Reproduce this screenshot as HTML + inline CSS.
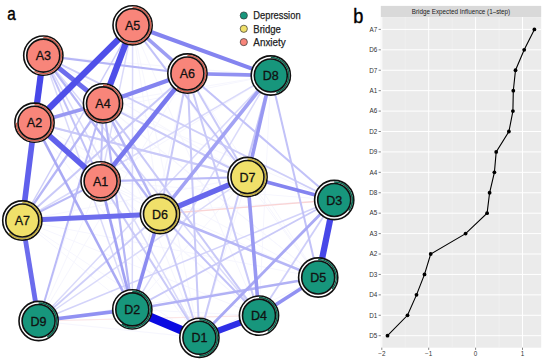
<!DOCTYPE html>
<html><head><meta charset="utf-8"><style>
html,body{margin:0;padding:0;background:#fff;width:550px;height:363px;overflow:hidden;}
svg{display:block;font-family:"Liberation Sans",sans-serif;}
</style></head><body>
<svg width="550" height="363" viewBox="0 0 550 363">
<rect width="550" height="363" fill="#fff"/>

<g stroke-linecap="butt">
<line x1="132.6" y1="25.3" x2="160" y2="214" stroke="rgb(246,246,254)" stroke-width="1.00"/>
<line x1="132.6" y1="25.3" x2="318.2" y2="277.5" stroke="rgb(246,246,254)" stroke-width="1.00"/>
<line x1="132.6" y1="25.3" x2="38.6" y2="321" stroke="rgb(246,246,254)" stroke-width="1.00"/>
<line x1="132.6" y1="25.3" x2="259" y2="315.6" stroke="rgb(246,246,254)" stroke-width="1.00"/>
<line x1="132.6" y1="25.3" x2="199.4" y2="337.8" stroke="rgb(246,246,254)" stroke-width="1.00"/>
<line x1="43.3" y1="55.6" x2="270.8" y2="75.5" stroke="rgb(246,246,254)" stroke-width="1.00"/>
<line x1="43.3" y1="55.6" x2="247.5" y2="177" stroke="rgb(246,246,254)" stroke-width="1.00"/>
<line x1="43.3" y1="55.6" x2="318.2" y2="277.5" stroke="rgb(246,246,254)" stroke-width="1.00"/>
<line x1="187.4" y1="73.5" x2="34.5" y2="122.7" stroke="rgb(246,246,254)" stroke-width="1.00"/>
<line x1="187.4" y1="73.5" x2="318.2" y2="277.5" stroke="rgb(246,246,254)" stroke-width="1.00"/>
<line x1="187.4" y1="73.5" x2="38.6" y2="321" stroke="rgb(246,246,254)" stroke-width="1.00"/>
<line x1="187.4" y1="73.5" x2="132.3" y2="309.4" stroke="rgb(246,246,254)" stroke-width="1.00"/>
<line x1="270.8" y1="75.5" x2="103" y2="103.4" stroke="rgb(246,246,254)" stroke-width="1.00"/>
<line x1="270.8" y1="75.5" x2="34.5" y2="122.7" stroke="rgb(246,246,254)" stroke-width="1.00"/>
<line x1="270.8" y1="75.5" x2="100.6" y2="181.3" stroke="rgb(246,246,254)" stroke-width="1.00"/>
<line x1="270.8" y1="75.5" x2="259" y2="315.6" stroke="rgb(246,246,254)" stroke-width="1.00"/>
<line x1="103" y1="103.4" x2="334.2" y2="200" stroke="rgb(246,246,254)" stroke-width="1.00"/>
<line x1="103" y1="103.4" x2="318.2" y2="277.5" stroke="rgb(246,246,254)" stroke-width="1.00"/>
<line x1="103" y1="103.4" x2="199.4" y2="337.8" stroke="rgb(246,246,254)" stroke-width="1.00"/>
<line x1="34.5" y1="122.7" x2="160" y2="214" stroke="rgb(246,246,254)" stroke-width="1.00"/>
<line x1="34.5" y1="122.7" x2="318.2" y2="277.5" stroke="rgb(246,246,254)" stroke-width="1.00"/>
<line x1="34.5" y1="122.7" x2="259" y2="315.6" stroke="rgb(246,246,254)" stroke-width="1.00"/>
<line x1="34.5" y1="122.7" x2="199.4" y2="337.8" stroke="rgb(246,246,254)" stroke-width="1.00"/>
<line x1="100.6" y1="181.3" x2="334.2" y2="200" stroke="rgb(246,246,254)" stroke-width="1.00"/>
<line x1="100.6" y1="181.3" x2="160" y2="214" stroke="rgb(246,246,254)" stroke-width="1.00"/>
<line x1="100.6" y1="181.3" x2="318.2" y2="277.5" stroke="rgb(246,246,254)" stroke-width="1.00"/>
<line x1="100.6" y1="181.3" x2="38.6" y2="321" stroke="rgb(246,246,254)" stroke-width="1.00"/>
<line x1="100.6" y1="181.3" x2="259" y2="315.6" stroke="rgb(246,246,254)" stroke-width="1.00"/>
<line x1="247.5" y1="177" x2="22.3" y2="220.5" stroke="rgb(246,246,254)" stroke-width="1.00"/>
<line x1="247.5" y1="177" x2="318.2" y2="277.5" stroke="rgb(246,246,254)" stroke-width="1.00"/>
<line x1="247.5" y1="177" x2="132.3" y2="309.4" stroke="rgb(246,246,254)" stroke-width="1.00"/>
<line x1="247.5" y1="177" x2="199.4" y2="337.8" stroke="rgb(246,246,254)" stroke-width="1.00"/>
<line x1="334.2" y1="200" x2="22.3" y2="220.5" stroke="rgb(246,246,254)" stroke-width="1.00"/>
<line x1="334.2" y1="200" x2="160" y2="214" stroke="rgb(246,246,254)" stroke-width="1.00"/>
<line x1="22.3" y1="220.5" x2="318.2" y2="277.5" stroke="rgb(246,246,254)" stroke-width="1.00"/>
<line x1="22.3" y1="220.5" x2="132.3" y2="309.4" stroke="rgb(246,246,254)" stroke-width="1.00"/>
<line x1="22.3" y1="220.5" x2="259" y2="315.6" stroke="rgb(246,246,254)" stroke-width="1.00"/>
<line x1="22.3" y1="220.5" x2="199.4" y2="337.8" stroke="rgb(246,246,254)" stroke-width="1.00"/>
<line x1="318.2" y1="277.5" x2="38.6" y2="321" stroke="rgb(246,246,254)" stroke-width="1.00"/>
<line x1="318.2" y1="277.5" x2="199.4" y2="337.8" stroke="rgb(246,246,254)" stroke-width="1.00"/>
<line x1="38.6" y1="321" x2="259" y2="315.6" stroke="rgb(246,246,254)" stroke-width="1.00"/>
<line x1="38.6" y1="321" x2="199.4" y2="337.8" stroke="rgb(246,246,254)" stroke-width="1.00"/>
<line x1="132.3" y1="309.4" x2="259" y2="315.6" stroke="rgb(246,246,254)" stroke-width="1.00"/>
<line x1="38.6" y1="321" x2="259" y2="315.6" stroke="rgb(252,229,229)" stroke-width="1.20"/>
<line x1="38.6" y1="321" x2="247.5" y2="177" stroke="rgb(218,218,250)" stroke-width="1.50"/>
<line x1="132.6" y1="25.3" x2="100.6" y2="181.3" stroke="rgb(218,218,250)" stroke-width="1.50"/>
<line x1="132.6" y1="25.3" x2="132.3" y2="309.4" stroke="rgb(218,218,250)" stroke-width="1.50"/>
<line x1="270.8" y1="75.5" x2="132.3" y2="309.4" stroke="rgb(218,218,250)" stroke-width="1.50"/>
<line x1="270.8" y1="75.5" x2="38.6" y2="321" stroke="rgb(218,218,250)" stroke-width="1.50"/>
<line x1="270.8" y1="75.5" x2="22.3" y2="220.5" stroke="rgb(218,218,250)" stroke-width="1.50"/>
<line x1="43.3" y1="55.6" x2="259" y2="315.6" stroke="rgb(218,218,250)" stroke-width="1.50"/>
<line x1="43.3" y1="55.6" x2="199.4" y2="337.8" stroke="rgb(218,218,250)" stroke-width="1.50"/>
<line x1="43.3" y1="55.6" x2="132.3" y2="309.4" stroke="rgb(218,218,250)" stroke-width="1.50"/>
<line x1="34.5" y1="122.7" x2="334.2" y2="200" stroke="rgb(218,218,250)" stroke-width="1.60"/>
<line x1="334.2" y1="200" x2="38.6" y2="321" stroke="rgb(211,211,250)" stroke-width="1.50"/>
<line x1="43.3" y1="55.6" x2="334.2" y2="200" stroke="rgb(206,206,249)" stroke-width="1.80"/>
<line x1="38.6" y1="321" x2="160" y2="214" stroke="rgb(206,206,249)" stroke-width="1.80"/>
<line x1="334.2" y1="200" x2="259" y2="315.6" stroke="rgb(206,206,249)" stroke-width="1.80"/>
<line x1="132.6" y1="25.3" x2="22.3" y2="220.5" stroke="rgb(206,206,249)" stroke-width="1.50"/>
<line x1="160" y1="214" x2="334.2" y2="200" stroke="rgb(250,212,212)" stroke-width="1.30"/>
<line x1="34.5" y1="122.7" x2="247.5" y2="177" stroke="rgb(201,201,248)" stroke-width="2.00"/>
<line x1="103" y1="103.4" x2="247.5" y2="177" stroke="rgb(201,201,248)" stroke-width="2.00"/>
<line x1="187.4" y1="73.5" x2="22.3" y2="220.5" stroke="rgb(201,201,248)" stroke-width="2.00"/>
<line x1="187.4" y1="73.5" x2="160" y2="214" stroke="rgb(201,201,248)" stroke-width="2.00"/>
<line x1="103" y1="103.4" x2="259" y2="315.6" stroke="rgb(201,201,248)" stroke-width="2.00"/>
<line x1="187.4" y1="73.5" x2="247.5" y2="177" stroke="rgb(201,201,248)" stroke-width="2.00"/>
<line x1="187.4" y1="73.5" x2="259" y2="315.6" stroke="rgb(201,201,248)" stroke-width="2.00"/>
<line x1="187.4" y1="73.5" x2="199.4" y2="337.8" stroke="rgb(201,201,248)" stroke-width="2.00"/>
<line x1="270.8" y1="75.5" x2="199.4" y2="337.8" stroke="rgb(201,201,248)" stroke-width="2.00"/>
<line x1="100.6" y1="181.3" x2="199.4" y2="337.8" stroke="rgb(201,201,248)" stroke-width="2.00"/>
<line x1="160" y1="214" x2="199.4" y2="337.8" stroke="rgb(201,201,248)" stroke-width="2.00"/>
<line x1="132.3" y1="309.4" x2="334.2" y2="200" stroke="rgb(201,201,248)" stroke-width="1.80"/>
<line x1="187.4" y1="73.5" x2="334.2" y2="200" stroke="rgb(194,194,248)" stroke-width="2.00"/>
<line x1="270.8" y1="75.5" x2="318.2" y2="277.5" stroke="rgb(194,194,248)" stroke-width="2.00"/>
<line x1="132.6" y1="25.3" x2="247.5" y2="177" stroke="rgb(194,194,248)" stroke-width="2.00"/>
<line x1="43.3" y1="55.6" x2="100.6" y2="181.3" stroke="rgb(194,194,248)" stroke-width="2.00"/>
<line x1="103" y1="103.4" x2="100.6" y2="181.3" stroke="rgb(194,194,248)" stroke-width="2.00"/>
<line x1="160" y1="214" x2="259" y2="315.6" stroke="rgb(194,194,248)" stroke-width="2.00"/>
<line x1="103" y1="103.4" x2="38.6" y2="321" stroke="rgb(186,186,247)" stroke-width="2.00"/>
<line x1="100.6" y1="181.3" x2="22.3" y2="220.5" stroke="rgb(186,186,247)" stroke-width="2.00"/>
<line x1="100.6" y1="181.3" x2="247.5" y2="177" stroke="rgb(186,186,247)" stroke-width="2.20"/>
<line x1="43.3" y1="55.6" x2="187.4" y2="73.5" stroke="rgb(182,182,246)" stroke-width="2.20"/>
<line x1="103" y1="103.4" x2="132.3" y2="309.4" stroke="rgb(182,182,246)" stroke-width="2.20"/>
<line x1="103" y1="103.4" x2="22.3" y2="220.5" stroke="rgb(182,182,246)" stroke-width="2.30"/>
<line x1="43.3" y1="55.6" x2="160" y2="214" stroke="rgb(182,182,246)" stroke-width="2.30"/>
<line x1="160" y1="214" x2="318.2" y2="277.5" stroke="rgb(182,182,246)" stroke-width="2.50"/>
<line x1="103" y1="103.4" x2="160" y2="214" stroke="rgb(182,182,246)" stroke-width="2.50"/>
<line x1="318.2" y1="277.5" x2="132.3" y2="309.4" stroke="rgb(177,177,245)" stroke-width="2.50"/>
<line x1="334.2" y1="200" x2="199.4" y2="337.8" stroke="rgb(169,169,244)" stroke-width="2.80"/>
<line x1="34.5" y1="122.7" x2="132.3" y2="309.4" stroke="rgb(169,169,244)" stroke-width="2.50"/>
<line x1="100.6" y1="181.3" x2="132.3" y2="309.4" stroke="rgb(162,162,244)" stroke-width="2.70"/>
<line x1="270.8" y1="75.5" x2="160" y2="214" stroke="rgb(162,162,244)" stroke-width="3.60"/>
<line x1="132.6" y1="25.3" x2="187.4" y2="73.5" stroke="rgb(157,157,243)" stroke-width="3.60"/>
<line x1="270.8" y1="75.5" x2="247.5" y2="177" stroke="rgb(152,152,242)" stroke-width="3.60"/>
<line x1="247.5" y1="177" x2="259" y2="315.6" stroke="rgb(152,152,242)" stroke-width="3.60"/>
<line x1="34.5" y1="122.7" x2="103" y2="103.4" stroke="rgb(152,152,242)" stroke-width="3.60"/>
<line x1="187.4" y1="73.5" x2="270.8" y2="75.5" stroke="rgb(145,145,242)" stroke-width="3.60"/>
<line x1="259" y1="315.6" x2="318.2" y2="277.5" stroke="rgb(145,145,242)" stroke-width="3.60"/>
<line x1="38.6" y1="321" x2="132.3" y2="309.4" stroke="rgb(145,145,242)" stroke-width="3.60"/>
<line x1="160" y1="214" x2="132.3" y2="309.4" stroke="rgb(140,140,241)" stroke-width="3.60"/>
<line x1="132.6" y1="25.3" x2="270.8" y2="75.5" stroke="rgb(132,132,240)" stroke-width="4.20"/>
<line x1="103" y1="103.4" x2="187.4" y2="73.5" stroke="rgb(132,132,240)" stroke-width="4.20"/>
<line x1="247.5" y1="177" x2="334.2" y2="200" stroke="rgb(132,132,240)" stroke-width="3.60"/>
<line x1="100.6" y1="181.3" x2="187.4" y2="73.5" stroke="rgb(120,120,238)" stroke-width="4.56"/>
<line x1="22.3" y1="220.5" x2="38.6" y2="321" stroke="rgb(108,108,237)" stroke-width="4.80"/>
<line x1="22.3" y1="220.5" x2="160" y2="214" stroke="rgb(108,108,237)" stroke-width="4.80"/>
<line x1="43.3" y1="55.6" x2="103" y2="103.4" stroke="rgb(108,108,237)" stroke-width="4.80"/>
<line x1="160" y1="214" x2="247.5" y2="177" stroke="rgb(103,103,236)" stroke-width="5.62"/>
<line x1="34.5" y1="122.7" x2="22.3" y2="220.5" stroke="rgb(96,96,236)" stroke-width="5.62"/>
<line x1="34.5" y1="122.7" x2="100.6" y2="181.3" stroke="rgb(96,96,236)" stroke-width="5.62"/>
<line x1="34.5" y1="122.7" x2="132.6" y2="25.3" stroke="rgb(79,79,233)" stroke-width="6.25"/>
<line x1="103" y1="103.4" x2="132.6" y2="25.3" stroke="rgb(79,79,233)" stroke-width="6.25"/>
<line x1="334.2" y1="200" x2="318.2" y2="277.5" stroke="rgb(71,71,232)" stroke-width="6.25"/>
<line x1="34.5" y1="122.7" x2="43.3" y2="55.6" stroke="rgb(71,71,232)" stroke-width="6.25"/>
<line x1="199.4" y1="337.8" x2="259" y2="315.6" stroke="rgb(47,47,230)" stroke-width="6.25"/>
<line x1="132.3" y1="309.4" x2="199.4" y2="337.8" stroke="rgb(10,10,225)" stroke-width="8.64"/>
</g>
<circle cx="132.6" cy="25.3" r="19.599999999999998" fill="#fff" stroke="#111" stroke-width="1.6"/>
<path d="M132.60,7.25 A18.049999999999997,18.049999999999997 0 1 1 120.24,38.46" fill="none" stroke="#d0604f" stroke-width="1.55"/>
<circle cx="132.6" cy="25.3" r="16.5" fill="#f8857a" stroke="#111" stroke-width="1.6"/>
<text x="132.6" y="29.85" font-size="12.5" text-anchor="middle" fill="#111" stroke="#111" stroke-width="0.3">A5</text>
<circle cx="43.3" cy="55.6" r="19.599999999999998" fill="#fff" stroke="#111" stroke-width="1.6"/>
<path d="M43.30,37.55 A18.049999999999997,18.049999999999997 0 1 1 34.60,71.42" fill="none" stroke="#d0604f" stroke-width="1.55"/>
<circle cx="43.3" cy="55.6" r="16.5" fill="#f8857a" stroke="#111" stroke-width="1.6"/>
<text x="43.3" y="60.15" font-size="12.5" text-anchor="middle" fill="#111" stroke="#111" stroke-width="0.3">A3</text>
<circle cx="187.4" cy="73.5" r="19.599999999999998" fill="#fff" stroke="#111" stroke-width="1.6"/>
<path d="M187.40,55.45 A18.049999999999997,18.049999999999997 0 1 1 176.79,88.10" fill="none" stroke="#d0604f" stroke-width="1.55"/>
<circle cx="187.4" cy="73.5" r="16.5" fill="#f8857a" stroke="#111" stroke-width="1.6"/>
<text x="187.4" y="78.05" font-size="12.5" text-anchor="middle" fill="#111" stroke="#111" stroke-width="0.3">A6</text>
<circle cx="270.8" cy="75.5" r="19.599999999999998" fill="#fff" stroke="#111" stroke-width="1.6"/>
<path d="M270.80,57.45 A18.049999999999997,18.049999999999997 0 0 1 276.38,92.67" fill="none" stroke="#0b6a52" stroke-width="1.55"/>
<circle cx="270.8" cy="75.5" r="16.5" fill="#17967c" stroke="#111" stroke-width="1.6"/>
<text x="270.8" y="80.05" font-size="12.5" text-anchor="middle" fill="#111" stroke="#111" stroke-width="0.3">D8</text>
<circle cx="103" cy="103.4" r="19.599999999999998" fill="#fff" stroke="#111" stroke-width="1.6"/>
<path d="M103.00,85.35 A18.049999999999997,18.049999999999997 0 1 1 85.83,108.98" fill="none" stroke="#d0604f" stroke-width="1.55"/>
<circle cx="103" cy="103.4" r="16.5" fill="#f8857a" stroke="#111" stroke-width="1.6"/>
<text x="103" y="107.95" font-size="12.5" text-anchor="middle" fill="#111" stroke="#111" stroke-width="0.3">A4</text>
<circle cx="34.5" cy="122.7" r="19.599999999999998" fill="#fff" stroke="#111" stroke-width="1.6"/>
<path d="M34.50,104.65 A18.049999999999997,18.049999999999997 0 1 1 16.45,122.70" fill="none" stroke="#d0604f" stroke-width="1.55"/>
<circle cx="34.5" cy="122.7" r="16.5" fill="#f8857a" stroke="#111" stroke-width="1.6"/>
<text x="34.5" y="127.25" font-size="12.5" text-anchor="middle" fill="#111" stroke="#111" stroke-width="0.3">A2</text>
<circle cx="100.6" cy="181.3" r="19.599999999999998" fill="#fff" stroke="#111" stroke-width="1.6"/>
<path d="M100.60,163.25 A18.049999999999997,18.049999999999997 0 1 1 89.99,195.90" fill="none" stroke="#d0604f" stroke-width="1.55"/>
<circle cx="100.6" cy="181.3" r="16.5" fill="#f8857a" stroke="#111" stroke-width="1.6"/>
<text x="100.6" y="185.85" font-size="12.5" text-anchor="middle" fill="#111" stroke="#111" stroke-width="0.3">A1</text>
<circle cx="247.5" cy="177" r="19.599999999999998" fill="#fff" stroke="#111" stroke-width="1.6"/>
<path d="M247.50,158.95 A18.049999999999997,18.049999999999997 0 1 1 239.81,193.33" fill="none" stroke="#c4ae3c" stroke-width="1.55"/>
<circle cx="247.5" cy="177" r="16.5" fill="#f0e06a" stroke="#111" stroke-width="1.6"/>
<text x="247.5" y="181.55" font-size="12.5" text-anchor="middle" fill="#111" stroke="#111" stroke-width="0.3">D7</text>
<circle cx="334.2" cy="200" r="19.599999999999998" fill="#fff" stroke="#111" stroke-width="1.6"/>
<path d="M334.20,181.95 A18.049999999999997,18.049999999999997 0 0 1 348.80,210.61" fill="none" stroke="#0b6a52" stroke-width="1.55"/>
<circle cx="334.2" cy="200" r="16.5" fill="#17967c" stroke="#111" stroke-width="1.6"/>
<text x="334.2" y="204.55" font-size="12.5" text-anchor="middle" fill="#111" stroke="#111" stroke-width="0.3">D3</text>
<circle cx="22.3" cy="220.5" r="19.599999999999998" fill="#fff" stroke="#111" stroke-width="1.6"/>
<path d="M22.30,202.45 A18.049999999999997,18.049999999999997 0 1 1 9.14,232.86" fill="none" stroke="#c4ae3c" stroke-width="1.55"/>
<circle cx="22.3" cy="220.5" r="16.5" fill="#f0e06a" stroke="#111" stroke-width="1.6"/>
<text x="22.3" y="225.05" font-size="12.5" text-anchor="middle" fill="#111" stroke="#111" stroke-width="0.3">A7</text>
<circle cx="160" cy="214" r="19.599999999999998" fill="#fff" stroke="#111" stroke-width="1.6"/>
<path d="M160.00,195.95 A18.049999999999997,18.049999999999997 0 1 1 149.39,228.60" fill="none" stroke="#c4ae3c" stroke-width="1.55"/>
<circle cx="160" cy="214" r="16.5" fill="#f0e06a" stroke="#111" stroke-width="1.6"/>
<text x="160" y="218.55" font-size="12.5" text-anchor="middle" fill="#111" stroke="#111" stroke-width="0.3">D6</text>
<circle cx="318.2" cy="277.5" r="19.599999999999998" fill="#fff" stroke="#111" stroke-width="1.6"/>
<path d="M318.20,259.45 A18.049999999999997,18.049999999999997 0 0 1 332.11,289.01" fill="none" stroke="#0b6a52" stroke-width="1.55"/>
<circle cx="318.2" cy="277.5" r="16.5" fill="#17967c" stroke="#111" stroke-width="1.6"/>
<text x="318.2" y="282.05" font-size="12.5" text-anchor="middle" fill="#111" stroke="#111" stroke-width="0.3">D5</text>
<circle cx="38.6" cy="321" r="19.599999999999998" fill="#fff" stroke="#111" stroke-width="1.6"/>
<path d="M38.60,302.95 A18.049999999999997,18.049999999999997 0 0 1 47.30,336.82" fill="none" stroke="#0b6a52" stroke-width="1.55"/>
<circle cx="38.6" cy="321" r="16.5" fill="#17967c" stroke="#111" stroke-width="1.6"/>
<text x="38.6" y="325.55" font-size="12.5" text-anchor="middle" fill="#111" stroke="#111" stroke-width="0.3">D9</text>
<circle cx="132.3" cy="309.4" r="19.599999999999998" fill="#fff" stroke="#111" stroke-width="1.6"/>
<path d="M132.30,291.35 A18.049999999999997,18.049999999999997 0 1 1 121.69,324.00" fill="none" stroke="#0b6a52" stroke-width="1.55"/>
<circle cx="132.3" cy="309.4" r="16.5" fill="#17967c" stroke="#111" stroke-width="1.6"/>
<text x="132.3" y="313.95" font-size="12.5" text-anchor="middle" fill="#111" stroke="#111" stroke-width="0.3">D2</text>
<circle cx="259" cy="315.6" r="19.599999999999998" fill="#fff" stroke="#111" stroke-width="1.6"/>
<path d="M259.00,297.55 A18.049999999999997,18.049999999999997 0 0 1 267.70,331.42" fill="none" stroke="#0b6a52" stroke-width="1.55"/>
<circle cx="259" cy="315.6" r="16.5" fill="#17967c" stroke="#111" stroke-width="1.6"/>
<text x="259" y="320.15" font-size="12.5" text-anchor="middle" fill="#111" stroke="#111" stroke-width="0.3">D4</text>
<circle cx="199.4" cy="337.8" r="19.599999999999998" fill="#fff" stroke="#111" stroke-width="1.6"/>
<path d="M199.40,319.75 A18.049999999999997,18.049999999999997 0 0 1 199.40,355.85" fill="none" stroke="#0b6a52" stroke-width="1.55"/>
<circle cx="199.4" cy="337.8" r="16.5" fill="#17967c" stroke="#111" stroke-width="1.6"/>
<text x="199.4" y="342.35" font-size="12.5" text-anchor="middle" fill="#111" stroke="#111" stroke-width="0.3">D1</text>
<circle cx="243.8" cy="15.5" r="3.6" fill="#17967c" stroke="#333" stroke-width="0.7"/>
<text x="253.3" y="19.30" font-size="10.8" fill="#222" stroke="#222" stroke-width="0.25" textLength="47.3" lengthAdjust="spacingAndGlyphs">Depression</text>
<circle cx="243.8" cy="28.8" r="3.6" fill="#f0e06a" stroke="#333" stroke-width="0.7"/>
<text x="253.3" y="32.60" font-size="10.8" fill="#222" stroke="#222" stroke-width="0.25" textLength="27.6" lengthAdjust="spacingAndGlyphs">Bridge</text>
<circle cx="243.8" cy="42.1" r="3.6" fill="#f8857a" stroke="#333" stroke-width="0.7"/>
<text x="253.3" y="45.90" font-size="10.8" fill="#222" stroke="#222" stroke-width="0.25" textLength="32.4" lengthAdjust="spacingAndGlyphs">Anxiety</text>
<text transform="translate(7.2,20.2) scale(0.86,1)" font-size="17.8" fill="#000" stroke="#000" stroke-width="0.4">a</text>
<text transform="translate(353.3,23.1) scale(0.93,1)" font-size="19.5" fill="#000" stroke="#000" stroke-width="0.4">b</text>
<rect x="380.8" y="5.9" width="160.40000000000003" height="11.200000000000001" fill="#d9d9d9"/>
<rect x="380.8" y="17.1" width="160.40000000000003" height="330.59999999999997" fill="#ebebeb"/>
<text x="461.0" y="14.0" font-size="6.3" text-anchor="middle" fill="#1a1a1a">Bridge Expected Influence (1–step)</text>
<line x1="405.25" y1="17.1" x2="405.25" y2="347.7" stroke="#f5f5f5" stroke-width="0.5"/>
<line x1="452.15" y1="17.1" x2="452.15" y2="347.7" stroke="#f5f5f5" stroke-width="0.5"/>
<line x1="499.05" y1="17.1" x2="499.05" y2="347.7" stroke="#f5f5f5" stroke-width="0.5"/>
<line x1="381.80" y1="17.1" x2="381.80" y2="347.7" stroke="#fff" stroke-width="1"/>
<line x1="428.70" y1="17.1" x2="428.70" y2="347.7" stroke="#fff" stroke-width="1"/>
<line x1="475.60" y1="17.1" x2="475.60" y2="347.7" stroke="#fff" stroke-width="1"/>
<line x1="522.50" y1="17.1" x2="522.50" y2="347.7" stroke="#fff" stroke-width="1"/>
<line x1="380.8" y1="29.40" x2="541.2" y2="29.40" stroke="#fff" stroke-width="1"/>
<line x1="378.6" y1="29.40" x2="380.8" y2="29.40" stroke="#333" stroke-width="0.6"/>
<text x="377.2" y="31.70" font-size="6.3" text-anchor="end" fill="#303030">A7</text>
<line x1="380.8" y1="49.82" x2="541.2" y2="49.82" stroke="#fff" stroke-width="1"/>
<line x1="378.6" y1="49.82" x2="380.8" y2="49.82" stroke="#333" stroke-width="0.6"/>
<text x="377.2" y="52.12" font-size="6.3" text-anchor="end" fill="#303030">D6</text>
<line x1="380.8" y1="70.24" x2="541.2" y2="70.24" stroke="#fff" stroke-width="1"/>
<line x1="378.6" y1="70.24" x2="380.8" y2="70.24" stroke="#333" stroke-width="0.6"/>
<text x="377.2" y="72.54" font-size="6.3" text-anchor="end" fill="#303030">D7</text>
<line x1="380.8" y1="90.66" x2="541.2" y2="90.66" stroke="#fff" stroke-width="1"/>
<line x1="378.6" y1="90.66" x2="380.8" y2="90.66" stroke="#333" stroke-width="0.6"/>
<text x="377.2" y="92.96" font-size="6.3" text-anchor="end" fill="#303030">A1</text>
<line x1="380.8" y1="111.08" x2="541.2" y2="111.08" stroke="#fff" stroke-width="1"/>
<line x1="378.6" y1="111.08" x2="380.8" y2="111.08" stroke="#333" stroke-width="0.6"/>
<text x="377.2" y="113.38" font-size="6.3" text-anchor="end" fill="#303030">A6</text>
<line x1="380.8" y1="131.50" x2="541.2" y2="131.50" stroke="#fff" stroke-width="1"/>
<line x1="378.6" y1="131.50" x2="380.8" y2="131.50" stroke="#333" stroke-width="0.6"/>
<text x="377.2" y="133.80" font-size="6.3" text-anchor="end" fill="#303030">D2</text>
<line x1="380.8" y1="151.92" x2="541.2" y2="151.92" stroke="#fff" stroke-width="1"/>
<line x1="378.6" y1="151.92" x2="380.8" y2="151.92" stroke="#333" stroke-width="0.6"/>
<text x="377.2" y="154.22" font-size="6.3" text-anchor="end" fill="#303030">D9</text>
<line x1="380.8" y1="172.34" x2="541.2" y2="172.34" stroke="#fff" stroke-width="1"/>
<line x1="378.6" y1="172.34" x2="380.8" y2="172.34" stroke="#333" stroke-width="0.6"/>
<text x="377.2" y="174.64" font-size="6.3" text-anchor="end" fill="#303030">A4</text>
<line x1="380.8" y1="192.76" x2="541.2" y2="192.76" stroke="#fff" stroke-width="1"/>
<line x1="378.6" y1="192.76" x2="380.8" y2="192.76" stroke="#333" stroke-width="0.6"/>
<text x="377.2" y="195.06" font-size="6.3" text-anchor="end" fill="#303030">D8</text>
<line x1="380.8" y1="213.18" x2="541.2" y2="213.18" stroke="#fff" stroke-width="1"/>
<line x1="378.6" y1="213.18" x2="380.8" y2="213.18" stroke="#333" stroke-width="0.6"/>
<text x="377.2" y="215.48" font-size="6.3" text-anchor="end" fill="#303030">A5</text>
<line x1="380.8" y1="233.60" x2="541.2" y2="233.60" stroke="#fff" stroke-width="1"/>
<line x1="378.6" y1="233.60" x2="380.8" y2="233.60" stroke="#333" stroke-width="0.6"/>
<text x="377.2" y="235.90" font-size="6.3" text-anchor="end" fill="#303030">A3</text>
<line x1="380.8" y1="254.02" x2="541.2" y2="254.02" stroke="#fff" stroke-width="1"/>
<line x1="378.6" y1="254.02" x2="380.8" y2="254.02" stroke="#333" stroke-width="0.6"/>
<text x="377.2" y="256.32" font-size="6.3" text-anchor="end" fill="#303030">A2</text>
<line x1="380.8" y1="274.44" x2="541.2" y2="274.44" stroke="#fff" stroke-width="1"/>
<line x1="378.6" y1="274.44" x2="380.8" y2="274.44" stroke="#333" stroke-width="0.6"/>
<text x="377.2" y="276.74" font-size="6.3" text-anchor="end" fill="#303030">D3</text>
<line x1="380.8" y1="294.86" x2="541.2" y2="294.86" stroke="#fff" stroke-width="1"/>
<line x1="378.6" y1="294.86" x2="380.8" y2="294.86" stroke="#333" stroke-width="0.6"/>
<text x="377.2" y="297.16" font-size="6.3" text-anchor="end" fill="#303030">D4</text>
<line x1="380.8" y1="315.28" x2="541.2" y2="315.28" stroke="#fff" stroke-width="1"/>
<line x1="378.6" y1="315.28" x2="380.8" y2="315.28" stroke="#333" stroke-width="0.6"/>
<text x="377.2" y="317.58" font-size="6.3" text-anchor="end" fill="#303030">D1</text>
<line x1="380.8" y1="335.70" x2="541.2" y2="335.70" stroke="#fff" stroke-width="1"/>
<line x1="378.6" y1="335.70" x2="380.8" y2="335.70" stroke="#333" stroke-width="0.6"/>
<text x="377.2" y="338.00" font-size="6.3" text-anchor="end" fill="#303030">D5</text>
<line x1="381.80" y1="347.7" x2="381.80" y2="349.9" stroke="#333" stroke-width="0.6"/>
<text x="381.80" y="356.10" font-size="6.3" text-anchor="middle" fill="#303030">−2</text>
<line x1="428.70" y1="347.7" x2="428.70" y2="349.9" stroke="#333" stroke-width="0.6"/>
<text x="428.70" y="356.10" font-size="6.3" text-anchor="middle" fill="#303030">−1</text>
<line x1="475.60" y1="347.7" x2="475.60" y2="349.9" stroke="#333" stroke-width="0.6"/>
<text x="475.60" y="356.10" font-size="6.3" text-anchor="middle" fill="#303030">0</text>
<line x1="522.50" y1="347.7" x2="522.50" y2="349.9" stroke="#333" stroke-width="0.6"/>
<text x="522.50" y="356.10" font-size="6.3" text-anchor="middle" fill="#303030">1</text>
<polyline points="534.4,29.40 524.2,49.82 515.5,70.24 513.3,90.66 512.9,111.08 508.9,131.50 496.2,151.92 494.4,172.34 489.6,192.76 487.1,213.18 465.6,233.60 430.7,254.02 424.5,274.44 416.5,294.86 407.5,315.28 387.5,335.70" fill="none" stroke="#000" stroke-width="1.1"/>
<circle cx="534.4" cy="29.40" r="1.9" fill="#000"/>
<circle cx="524.2" cy="49.82" r="1.9" fill="#000"/>
<circle cx="515.5" cy="70.24" r="1.9" fill="#000"/>
<circle cx="513.3" cy="90.66" r="1.9" fill="#000"/>
<circle cx="512.9" cy="111.08" r="1.9" fill="#000"/>
<circle cx="508.9" cy="131.50" r="1.9" fill="#000"/>
<circle cx="496.2" cy="151.92" r="1.9" fill="#000"/>
<circle cx="494.4" cy="172.34" r="1.9" fill="#000"/>
<circle cx="489.6" cy="192.76" r="1.9" fill="#000"/>
<circle cx="487.1" cy="213.18" r="1.9" fill="#000"/>
<circle cx="465.6" cy="233.60" r="1.9" fill="#000"/>
<circle cx="430.7" cy="254.02" r="1.9" fill="#000"/>
<circle cx="424.5" cy="274.44" r="1.9" fill="#000"/>
<circle cx="416.5" cy="294.86" r="1.9" fill="#000"/>
<circle cx="407.5" cy="315.28" r="1.9" fill="#000"/>
<circle cx="387.5" cy="335.70" r="1.9" fill="#000"/>
</svg></body></html>
